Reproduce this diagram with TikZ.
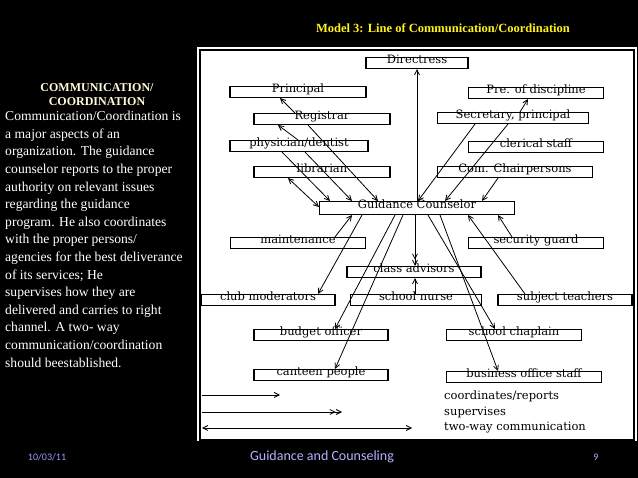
\documentclass[tikz,border=0pt]{standalone}
\usepackage{fontspec}
\setmainfont{Liberation Serif}
\newfontfamily\dia{DejaVu Serif}
\newfontfamily\foot{Carlito}
\usetikzlibrary{arrows.meta}
\begin{document}
\begin{tikzpicture}[x=1pt,y=-1pt,
  bx/.style={draw=black,line width=1.1pt,inner sep=0pt,minimum height=11pt,text height=5.5pt,text depth=4pt,font=\dia\fontsize{11.5}{12}\selectfont},
  co/.style={black,line width=0.8pt,-{Straight Barb[length=5pt,width=5pt]}},
  su/.style={black,line width=0.8pt,-{Straight Barb[length=5pt,width=5pt]Straight Barb[length=5pt,width=5pt]}},
  tw/.style={black,line width=0.8pt,{Straight Barb[length=5pt,width=5pt]}-{Straight Barb[length=5pt,width=5pt]}},
  lg/.style={anchor=west,inner sep=0pt,font=\dia\fontsize{11.5}{12}\selectfont}]
\fill[black] (0,0) rectangle (638,478);
\useasboundingbox (0,0) rectangle (638,478);
\fill[white] (197,47) rectangle (637,441);
\draw[black,line width=1.5pt] (200,50) rectangle (634,440);
% header
\node[font=\bfseries\fontsize{12.5}{13}\selectfont,text=yellow!90!white] (hd) at (443,28) {Model 3: Line of Communication/Coordination};
% left text
\node[font=\bfseries\fontsize{12}{14}\selectfont,text=yellow!15!white,align=center] (lt) at (97,95) {COMMUNICATION/\\COORDINATION};
\node[anchor=north west,inner sep=0pt,text=white,align=left,font=\fontsize{13.6}{17.6}\selectfont] (body) at (5,111) {Communication/Coordination is\\a major aspects of an\\organization. The guidance\\counselor reports to the proper\\authority on relevant issues\\regarding the guidance\\program. He also coordinates\\with the proper persons/\\agencies for the best deliverance\\of its services; He\\supervises how they are\\delivered and carries to right\\channel. A two- way\\communication/coordination\\should beestablished.};
% footer
\node[font=\foot\fontsize{10}{12}\selectfont,text=blue!40!white] (f1) at (47,457) {10/03/11};
\node[font=\foot\fontsize{14}{15}\selectfont,text=blue!30!white] (f2) at (322,457) {Guidance and Counseling};
\node[font=\foot\fontsize{10}{12}\selectfont,text=blue!30!white] (f3) at (596,457) {9};
% boxes
\node[bx,minimum width=102] (dir) at (417,63) {Directress};
\node[bx,minimum width=136] (pri) at (298,92) {Principal};
\node[bx,minimum width=135] (pod) at (536,93) {Pre. of discipline};
\node[bx,minimum width=136] (reg) at (322,119) {Registrar};
\node[bx,minimum width=151] (sec) at (513,118) {Secretary, principal};
\node[bx,minimum width=138] (phy) at (299,146) {physician/dentist};
\node[bx,minimum width=135] (cle) at (536,147) {clerical staff};
\node[bx,minimum width=136] (lib) at (322,172) {librarian};
\node[bx,minimum width=155] (com) at (515,172) {Com. Chairpersons};
\node[bx,minimum width=195,minimum height=13] (gc) at (417,208) {Guidance Counselor};
\node[bx,minimum width=135] (mai) at (298,243) {maintenance};
\node[bx,minimum width=135] (sgu) at (536,243) {security guard};
\node[bx,minimum width=134] (cla) at (414,272) {class advisors};
\node[bx,minimum width=134] (clu) at (268,300) {club moderators};
\node[bx,minimum width=131] (nur) at (416,300) {school nurse};
\node[bx,minimum width=134] (sub) at (565,300) {subject teachers};
\node[bx,minimum width=134] (bud) at (321,335) {budget officer};
\node[bx,minimum width=135] (cha) at (514,335) {school chaplain};
\node[bx,minimum width=134] (can) at (321,375) {canteen people};
\node[bx,minimum width=155] (bus) at (524,377) {business office staff};
% connectors
\draw[co] (gc.north) -- (dir.south);
\draw[co] (reg.north -| 295,0) -- (pri.south -| 280,0);
\draw[co] (phy.north -| 298,0) -- (reg.south -| 278,0);
\draw[co] (reg.south -| 308,0) -- (gc.north -| 378,0);
\draw[co] (phy.south -| 305,0) -- (gc.north -| 352,0);
\draw[co] (phy.south -| 282,0) -- (gc.north -| 330,0);
\draw[tw] (lib.south -| 288,0) -- (gc.west |- 0,207);
\draw[co] (sec.south -| 475,0) -- (gc.north -| 418,0);
\draw[co] (sec.south -| 508,0) -- (gc.north -| 445,0);
\draw[co] (sec.north -| 520,0) -- (pod.south -| 528,0);
\draw[co] (com.south -| 498,0) -- (gc.north -| 482,0);
\draw[co] (mai.north -| 335,0) -- (gc.south -| 352,0);
\draw[co] (gc.south -| 362,0) -- (clu.north -| 318,0);
\draw[co] (gc.south -| 395,0) -- (bud.north -| 335,0);
\draw[co] (gc.south -| 403,0) -- (can.north -| 335,0);
\draw[su] (gc.south -| 415,0) -- (cla.north -| 415,0);
\draw[co] (nur.north -| 415,0) -- (cla.south -| 415,0);
\draw[co] (gc.south -| 428,0) -- (cha.north -| 495,0);
\draw[co] (gc.south -| 440,0) -- (bus.north -| 498,0);
\draw[co] (sub.north -| 525,0) -- (gc.south -| 468,0);
\draw[co] (sgu.north -| 512,0) -- (gc.south -| 498,0);
% legend
\coordinate (l1a) at (202,395); \coordinate (l1b) at (280,395);
\coordinate (l2a) at (202,412); \coordinate (l2b) at (342,412);
\coordinate (l3a) at (202,428); \coordinate (l3b) at (412,428);
\draw[co] (l1a) -- (l1b);
\draw[su] (l2a) -- (l2b);
\draw[black,line width=0.8pt] (l2a) -- (290,412);
\draw[tw] (l3a) -- (l3b);
\node[lg] (t1) at (444,396) {coordinates/reports};
\node[lg] (t2) at (444,412) {supervises};
\node[lg] (t3) at (444,428) {two-way communication};
\end{tikzpicture}
\end{document}
